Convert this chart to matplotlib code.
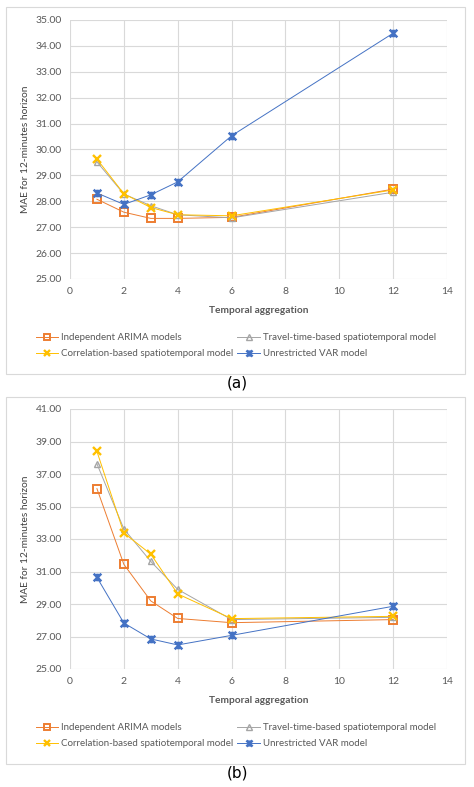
import numpy as np
import matplotlib
matplotlib.use('Agg')
import matplotlib.pyplot as plt
from matplotlib.path import Path
from matplotlib.patches import Rectangle

plt.rcParams['font.family'] = ['Lato', 'DejaVu Sans']

# temporal aggregation levels
agg = [1, 2, 3, 4, 6, 12]

# (a) MAE values
arima_a = [28.08, 27.58, 27.34, 27.34, 27.38, 28.47]
travel_a = [29.52, 28.28, 27.83, 27.48, 27.36, 28.35]
corr_a = [29.63, 28.29, 27.76, 27.48, 27.44, 28.44]
var_a = [28.32, 27.88, 28.25, 28.75, 30.53, 34.49]

# (b) MAE values
arima_b = [36.10, 31.44, 29.19, 28.11, 27.85, 28.04]
travel_b = [37.63, 33.62, 31.62, 29.90, 28.04, 28.18]
corr_b = [38.39, 33.37, 32.07, 29.62, 28.10, 28.24]
var_b = [30.64, 27.83, 26.85, 26.48, 27.07, 28.86]

names = ['Independent ARIMA models', 'Travel-time-based spatiotemporal model',
         'Correlation-based spatiotemporal model', 'Unrestricted VAR model']
colors = ['#ED7D31', '#A5A5A5', '#FFC000', '#4472C4']

# excel-style star marker: an x with a short vertical bar
star = Path([(-1, -1), (1, 1), (-1, 1), (1, -1), (0, -1), (0, 1)],
            [Path.MOVETO, Path.LINETO, Path.MOVETO, Path.LINETO, Path.MOVETO, Path.LINETO])

W, H = 474, 787
fig = plt.figure(figsize=(W / 100, H / 100), dpi=100)
txt = '#595959'


def fx(px):
    return px / W


def fy(py):
    return 1 - py / H


def draw_panel(top, bottom, ylo, yhi, ystep, series, frame, tag, tag_y):
    # outer frame like the excel chart area
    l, t, r, b = frame
    fig.add_artist(Rectangle((fx(l), fy(b)), (r - l) / W, (b - t) / H,
                             transform=fig.transFigure, fill=False, edgecolor='#D9D9D9', lw=0.8))
    ax = fig.add_axes([fx(70), fy(bottom), fx(447 - 70), (bottom - top) / H])
    ax.set_xlim(0, 14)
    ax.set_ylim(ylo, yhi)
    ax.set_xticks(range(0, 15, 2))
    yt = np.arange(ylo, yhi + 0.01, ystep)
    ax.set_yticks(yt)
    ax.set_yticklabels([f'{v:.2f}' for v in yt])
    ax.grid(True, color='#D9D9D9', lw=0.8)
    ax.set_axisbelow(True)
    for s in ax.spines.values():
        s.set_visible(False)
    ax.tick_params(length=0, labelsize=7.5, colors=txt, pad=6)

    ms = [dict(marker='s', ms=5.5, mfc='none', mew=1.4),
          dict(marker='^', ms=5, mfc='none', mew=1.0),
          dict(marker='x', ms=5.5, mew=1.7),
          dict(marker=star, ms=5.5, mew=1.8)]
    for vals, c, m, n in zip(series, colors, ms, names):
        ax.plot(agg, vals, color=c, lw=0.7, mec=c, label=n, **m)

    ax.set_xlabel('Temporal aggregation', fontsize=7.3, fontweight='bold', color=txt, labelpad=7)
    ax.set_ylabel('MAE for 12-minutes horizon', fontsize=7.3, color='#404040', labelpad=4)

    handles, labels = ax.get_legend_handles_labels()
    order = [0, 2, 1, 3]
    leg = fig.legend([handles[i] for i in order], [labels[i] for i in order],
                     ncol=2, loc='upper left',
                     bbox_to_anchor=(fx(36), fy(bottom + 54)), bbox_transform=fig.transFigure,
                     frameon=False, fontsize=7, handlelength=2.3, handletextpad=0.3,
                     columnspacing=0.4, labelspacing=0.75, borderaxespad=0, borderpad=0,
                     markerscale=0.8)
    for tx in leg.get_texts():
        tx.set_color(txt)
    fig.text(0.5, fy(tag_y), tag, ha='center', va='center', fontsize=11, family='DejaVu Sans')


draw_panel(20, 279, 25, 35, 1, [arima_a, travel_a, corr_a, var_a], (6, 7, 465, 374), '(a)', 383)
draw_panel(409, 669, 25, 41, 2, [arima_b, travel_b, corr_b, var_b], (6, 397, 465, 764), '(b)', 773)

fig.savefig('out.png', dpi=100)
